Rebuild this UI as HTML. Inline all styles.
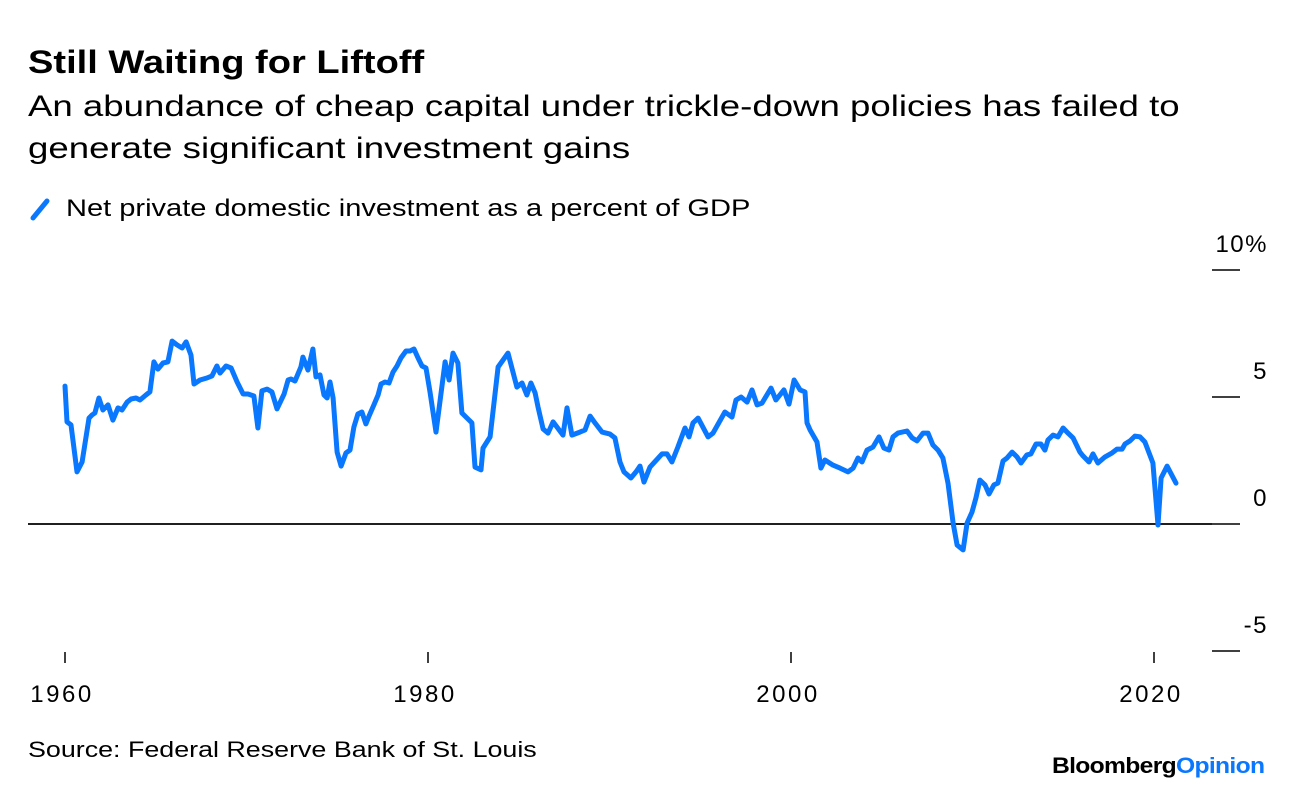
<!DOCTYPE html>
<html><head><meta charset="utf-8"><style>
body{margin:0;background:#fff;font-family:"Liberation Sans",sans-serif;color:#000}
#wrap{position:relative;width:1296px;height:790px;overflow:hidden}
.t{position:absolute;white-space:nowrap;transform-origin:0 0}
</style></head><body>
<div id="wrap">
<div class="t" style="left:28px;top:44px;font-size:32px;font-weight:bold;transform:scaleX(1.19)">Still Waiting for Liftoff</div>
<div class="t" style="left:28px;top:86px;font-size:30px;line-height:42px;transform:scaleX(1.22)">An abundance of cheap capital under trickle-down policies has failed to<br>generate significant investment gains</div>
<svg width="24" height="28" style="position:absolute;left:28px;top:195px"><line x1="5" y1="23" x2="19" y2="6" stroke="#0a77ff" stroke-width="5" stroke-linecap="round"/></svg>
<div class="t" style="left:66px;top:195px;font-size:24px;transform:scaleX(1.21)">Net private domestic investment as a percent of GDP</div>
<svg id="chart" width="1296" height="790" style="position:absolute;left:0;top:0"></svg>
<div class="t" style="left:28px;top:737px;font-size:22px;transform:scaleX(1.22)">Source: Federal Reserve Bank of St. Louis</div>
<div class="t" style="left:1052px;top:753px;font-size:22px;font-weight:bold;letter-spacing:-0.6px;transform:scaleX(1.12)">Bloomberg<span style="color:#0a77ff">Opinion</span></div>
</div>
<script>
const years=[1960.0,1960.11,1960.33,1960.66,1960.94,1961.32,1961.49,1961.65,1961.87,1962.09,1962.37,1962.64,1962.92,1963.14,1963.42,1963.64,1963.91,1964.13,1964.46,1964.68,1964.90,1965.12,1965.40,1965.67,1965.90,1966.17,1966.45,1966.67,1966.94,1967.11,1967.44,1967.82,1968.10,1968.37,1968.54,1968.87,1969.15,1969.48,1969.81,1970.08,1970.41,1970.63,1970.85,1971.13,1971.40,1971.68,1972.07,1972.29,1972.45,1972.67,1973.00,1973.11,1973.39,1973.66,1973.83,1974.05,1974.27,1974.44,1974.60,1974.77,1974.99,1975.21,1975.48,1975.70,1975.92,1976.14,1976.36,1976.58,1976.75,1977.02,1977.25,1977.41,1977.63,1977.85,1978.07,1978.29,1978.51,1978.79,1979.01,1979.23,1979.45,1979.67,1979.89,1980.11,1980.44,1980.94,1981.16,1981.38,1981.65,1981.87,1982.42,1982.59,1982.92,1983.03,1983.42,1983.86,1984.41,1984.90,1985.18,1985.45,1985.67,1985.90,1986.06,1986.34,1986.61,1986.89,1987.44,1987.66,1987.93,1988.37,1988.65,1988.93,1989.20,1989.59,1990.03,1990.30,1990.58,1990.80,1991.18,1991.46,1991.68,1991.90,1992.23,1992.89,1993.17,1993.44,1993.77,1994.16,1994.38,1994.60,1994.88,1995.43,1995.70,1996.36,1996.75,1996.97,1997.25,1997.58,1997.85,1998.13,1998.40,1998.90,1999.17,1999.61,1999.89,2000.17,2000.50,2000.77,2000.88,2001.05,2001.43,2001.65,2001.87,2002.31,2002.70,2003.14,2003.42,2003.69,2003.91,2004.19,2004.52,2004.85,2005.12,2005.40,2005.62,2005.89,2006.39,2006.67,2006.94,2007.27,2007.55,2007.82,2008.10,2008.37,2008.65,2008.93,2009.15,2009.48,2009.70,2009.97,2010.19,2010.41,2010.69,2010.91,2011.18,2011.40,2011.68,2011.90,2012.18,2012.45,2012.67,2013.00,2013.22,2013.50,2013.77,2013.99,2014.16,2014.44,2014.71,2014.99,2015.26,2015.54,2015.92,2016.09,2016.42,2016.64,2016.91,2017.30,2017.69,2017.96,2018.24,2018.40,2018.68,2018.95,2019.23,2019.50,2019.94,2020.22,2020.39,2020.72,2021.21];
const investment=[5.43,4.02,3.90,2.05,2.44,4.17,4.29,4.37,4.96,4.49,4.69,4.09,4.57,4.49,4.80,4.92,4.96,4.88,5.08,5.20,6.38,6.10,6.34,6.38,7.20,7.05,6.93,7.17,6.65,5.51,5.67,5.75,5.83,6.22,5.94,6.22,6.14,5.59,5.12,5.12,5.04,3.78,5.24,5.31,5.20,4.53,5.12,5.67,5.71,5.63,6.18,6.57,6.06,6.89,5.79,5.87,5.08,4.96,5.59,4.96,2.83,2.28,2.80,2.91,3.82,4.33,4.41,3.94,4.25,4.69,5.08,5.51,5.59,5.55,5.98,6.22,6.54,6.81,6.81,6.89,6.54,6.22,6.14,5.20,3.62,6.38,5.67,6.73,6.34,4.37,3.98,2.24,2.13,2.99,3.43,6.18,6.73,5.39,5.55,5.08,5.55,5.16,4.61,3.74,3.58,4.02,3.50,4.57,3.50,3.62,3.70,4.25,3.98,3.62,3.54,3.39,2.44,2.05,1.81,2.05,2.28,1.65,2.24,2.76,2.76,2.44,3.03,3.78,3.43,3.98,4.17,3.43,3.58,4.41,4.21,4.88,5.00,4.80,5.28,4.69,4.76,5.35,4.88,5.28,4.72,5.67,5.28,5.20,3.98,3.70,3.23,2.20,2.52,2.32,2.20,2.05,2.20,2.60,2.44,2.91,3.03,3.43,2.99,2.91,3.43,3.58,3.66,3.39,3.27,3.58,3.58,3.11,2.91,2.60,1.61,0.04,-0.83,-1.02,0.04,0.47,1.02,1.73,1.54,1.18,1.54,1.61,2.48,2.60,2.83,2.64,2.40,2.72,2.76,3.15,3.15,2.91,3.31,3.50,3.43,3.78,3.58,3.39,2.83,2.68,2.44,2.76,2.40,2.64,2.80,2.95,2.95,3.15,3.27,3.46,3.43,3.23,2.40,-0.04,1.81,2.28,1.61];
const yTicks=[10,5,0,-5];
const yTickLabels=["10%","5","0","-5"];
const xTicks=[1960,1980,2000,2020];

const NS="http://www.w3.org/2000/svg";
const svg=document.getElementById('chart');
const xS=y=>65+(y-1960)*18.15;
const yS=v=>524-v*25.4;
function mk(tag,attrs){const e=document.createElementNS(NS,tag);for(const k in attrs)e.setAttribute(k,attrs[k]);svg.appendChild(e);return e;}
yTicks.forEach((v,i)=>{
  const l=mk('line',{x1:1212,x2:1240,y1:yS(v),y2:yS(v),stroke:'#000','stroke-width':1.5});
  
  
  const t=mk('text',{x:1268,y:yS(v)-18,'text-anchor':'end','font-size':24,'letter-spacing':1.5,'font-family':'Liberation Sans, sans-serif'});
  t.textContent=yTickLabels[i];
  
  
});
const z=mk('line',{x1:28,x2:1212,y1:yS(0),y2:yS(0),stroke:'#000','stroke-width':1.8});


xTicks.forEach(y=>{
  const l=mk('line',{x1:xS(y),x2:xS(y),y1:652,y2:663,stroke:'#000','stroke-width':1.5});
  
  
  const t=mk('text',{x:xS(y)-3,y:702,'text-anchor':'middle','font-size':24,'letter-spacing':2.5,'font-family':'Liberation Sans, sans-serif'});
  t.textContent=y;
  
  
});
const d=years.map((y,i)=>(i?'L':'M')+xS(y).toFixed(1)+' '+yS(investment[i]).toFixed(1)).join(' ');
const p=mk('path',{d:d,fill:'none',stroke:'#0a77ff','stroke-width':5,'stroke-linejoin':'round','stroke-linecap':'round'});


</script>
</body></html>
